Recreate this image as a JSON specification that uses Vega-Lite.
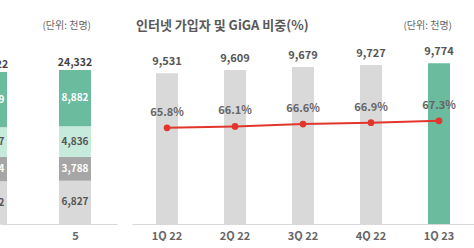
{
  "$schema": "https://vega.github.io/schema/vega-lite/v6.json",
  "padding": {"left": 0, "top": 20, "right": 0, "bottom": 0},
  "background": "white",
  "spacing": 15,
  "config": {
    "view": {"stroke": null},
    "font": "Noto Sans CJK KR",
    "axis": {
      "domainColor": "#d9d9d9",
      "labelColor": "#666666",
      "labelFontSize": 11,
      "labelFontWeight": "bold",
      "labelFont": "Noto Sans CJK KR",
      "ticks": false,
      "grid": false,
      "labelPadding": 6,
      "title": null
    }
  },
  "title": {
    "text": "인터넷 가입자 및 GiGA 비중(%)",
    "anchor": "start",
    "dx": 136,
    "offset": -12,
    "fontSize": 13,
    "fontWeight": "bold",
    "color": "#595959",
    "font": "Noto Sans CJK KR"
  },
  "resolve": {"scale": {"color": "independent"}},
  "hconcat": [
    {
      "width": 117,
      "height": 184,
      "title": {
        "text": "(단위: 천명)",
        "anchor": "end",
        "dx": -26,
        "offset": 9,
        "fontSize": 10,
        "fontWeight": "normal",
        "color": "#666666",
        "font": "Noto Sans CJK KR"
      },
      "layer": [
        {
          "data": {
            "values": [
              {"q": 4, "seg": "s1", "order": 1, "v": 6752},
              {"q": 4, "seg": "s2", "order": 2, "v": 3834},
              {"q": 4, "seg": "s3", "order": 3, "v": 4687},
              {"q": 4, "seg": "s4", "order": 4, "v": 8749},
              {"q": 5, "seg": "s1", "order": 1, "v": 6827},
              {"q": 5, "seg": "s2", "order": 2, "v": 3788},
              {"q": 5, "seg": "s3", "order": 3, "v": 4836},
              {"q": 5, "seg": "s4", "order": 4, "v": 8882}
            ]
          },
          "layer": [
            {
              "mark": {"type": "bar", "size": 32, "clip": true},
              "encoding": {
                "x": {
                  "field": "q",
                  "type": "quantitative",
                  "scale": {"domain": [4.1071, 5.5], "nice": false, "zero": false, "padding": 0},
                  "axis": {"values": [5], "format": "d"}
                },
                "y": {
                  "field": "v",
                  "type": "quantitative",
                  "stack": "zero",
                  "scale": {"domain": [0, 29072], "nice": false},
                  "axis": null
                },
                "color": {
                  "field": "seg",
                  "type": "nominal",
                  "scale": {"domain": ["s1", "s2", "s3", "s4"], "range": ["#d9d9d9", "#a6a6a6", "#c6eadc", "#6bbb9f"]},
                  "legend": null
                },
                "order": {"field": "order", "type": "quantitative"}
              }
            },
            {
              "mark": {"type": "text", "clip": true, "fontSize": 10, "fontWeight": "bold", "baseline": "middle"},
              "encoding": {
                "x": {"field": "q", "type": "quantitative"},
                "y": {"field": "v", "type": "quantitative", "stack": "zero", "bandPosition": 0.5},
                "detail": {"field": "seg", "type": "nominal"},
                "order": {"field": "order", "type": "quantitative"},
                "text": {"field": "v", "type": "quantitative", "format": ","},
                "color": {
                  "condition": {"test": "datum.seg === 's2' || datum.seg === 's4'", "value": "#ffffff"},
                  "value": "#555555"
                }
              }
            }
          ]
        },
        {
          "data": {"values": [{"q": 4, "total": 24022}, {"q": 5, "total": 24332}]},
          "mark": {"type": "text", "clip": true, "fontSize": 10.5, "fontWeight": "bold", "baseline": "bottom", "dy": -2, "color": "#444444"},
          "encoding": {
            "x": {"field": "q", "type": "quantitative"},
            "y": {"field": "total", "type": "quantitative"},
            "text": {"field": "total", "type": "quantitative", "format": ","}
          }
        }
      ]
    },
    {
      "width": 342,
      "height": 184,
      "title": {
        "text": "(단위: 천명)",
        "anchor": "end",
        "dx": -22,
        "offset": 9,
        "fontSize": 10,
        "fontWeight": "normal",
        "color": "#666666",
        "font": "Noto Sans CJK KR"
      },
      "data": {
        "values": [
          {"q": "1Q 22", "subs": 9531, "pct": 0.658, "hl": "n"},
          {"q": "2Q 22", "subs": 9609, "pct": 0.661, "hl": "n"},
          {"q": "3Q 22", "subs": 9679, "pct": 0.666, "hl": "n"},
          {"q": "4Q 22", "subs": 9727, "pct": 0.669, "hl": "n"},
          {"q": "1Q 23", "subs": 9774, "pct": 0.673, "hl": "y"}
        ]
      },
      "encoding": {
        "x": {
          "field": "q",
          "type": "nominal",
          "sort": null,
          "scale": {"paddingInner": 0.676, "paddingOuter": 0.353},
          "axis": {"labelAngle": 0}
        }
      },
      "layer": [
        {
          "layer": [
            {
              "mark": {"type": "bar", "clip": true},
              "encoding": {
                "y": {
                  "field": "subs",
                  "type": "quantitative",
                  "scale": {"domain": [5860, 10337], "zero": false, "nice": false},
                  "axis": null
                },
                "color": {
                  "field": "hl",
                  "type": "nominal",
                  "scale": {"domain": ["n", "y"], "range": ["#d9d9d9", "#6bbb9f"]},
                  "legend": null
                }
              }
            },
            {
              "mark": {"type": "text", "fontSize": 11, "fontWeight": "bold", "baseline": "bottom", "dy": -6, "color": "#555555"},
              "encoding": {
                "y": {"field": "subs", "type": "quantitative"},
                "text": {"field": "subs", "type": "quantitative", "format": ","}
              }
            }
          ]
        },
        {
          "layer": [
            {
              "mark": {"type": "line", "color": "#e0362c", "strokeWidth": 2},
              "encoding": {
                "y": {
                  "field": "pct",
                  "type": "quantitative",
                  "scale": {"domain": [0.452, 0.846], "zero": false, "nice": false},
                  "axis": null
                }
              }
            },
            {
              "mark": {"type": "point", "filled": true, "size": 45, "color": "#e0362c", "opacity": 1},
              "encoding": {"y": {"field": "pct", "type": "quantitative"}}
            },
            {
              "mark": {"type": "text", "fontSize": 11, "fontWeight": "bold", "baseline": "bottom", "dy": -10, "color": "#666666"},
              "encoding": {
                "y": {"field": "pct", "type": "quantitative"},
                "text": {"field": "pct", "type": "quantitative", "format": ".1%"}
              }
            }
          ]
        }
      ],
      "resolve": {"scale": {"y": "independent"}}
    }
  ]
}
